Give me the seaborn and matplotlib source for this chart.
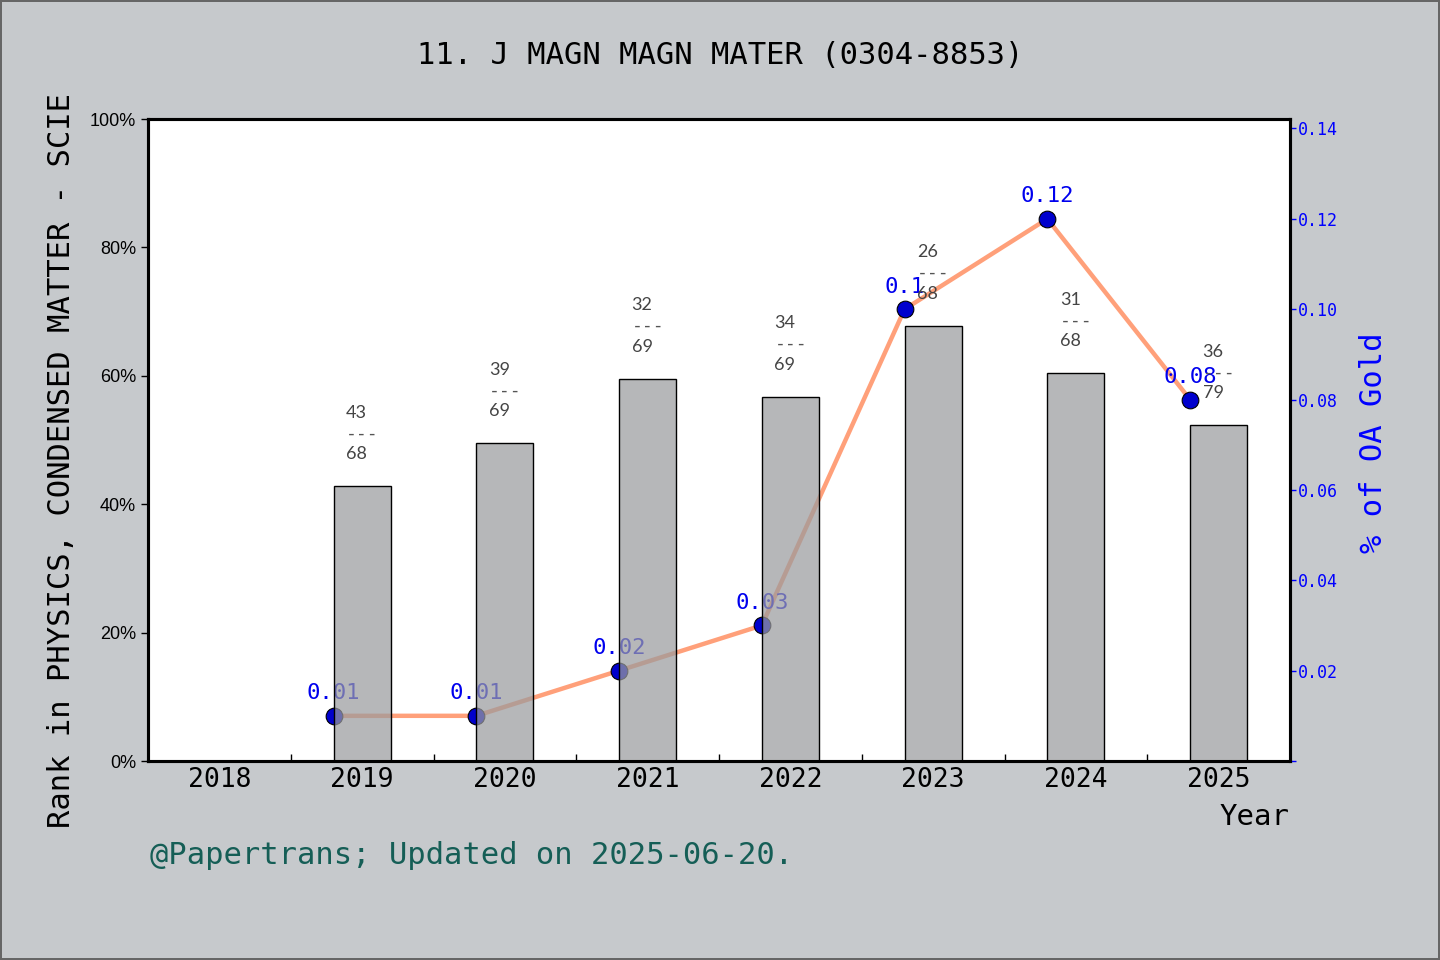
import numpy as np
import pandas as pd
import matplotlib
matplotlib.use("Agg")
import matplotlib.pyplot as plt
import seaborn as sns
from matplotlib.ticker import PercentFormatter, FixedLocator

# ---- data ----
years = ["2018", "2019", "2020", "2021", "2022", "2023", "2024", "2025"]
rank_pct = [np.nan, 42.8, 49.5, 59.5, 56.7, 67.8, 60.4, 52.3]
rank_num = [None, 43, 39, 32, 34, 26, 31, 36]
rank_total = [None, 68, 69, 69, 69, 68, 68, 79]
oa_gold = [np.nan, 0.01, 0.01, 0.02, 0.03, 0.10, 0.12, 0.08]
oa_ticks = [0.0, 0.02, 0.04, 0.06, 0.08, 0.10, 0.12, 0.14]

title = "11. J MAGN MAGN MATER (0304-8853)"
footer = "@Papertrans; Updated on 2025-06-20."

sns.set_theme(style="ticks")
plt.rcParams["font.family"] = ["DejaVu Sans Mono"]
plt.rcParams["text.color"] = "black"
plt.rcParams["xtick.color"] = "black"
plt.rcParams["ytick.color"] = "black"

bg = "#c6c9cc"
df = pd.DataFrame({"year": years, "rank_pct": rank_pct, "oa": oa_gold})
df["pos"] = np.arange(len(years))

fig = plt.figure(figsize=(14.4, 9.6), dpi=100, facecolor=bg,
                 edgecolor="#666666", linewidth=1.5)
ax = fig.add_axes([148 / 1440, 1 - 761 / 960, (1290 - 148) / 1440, (761 - 119) / 960])
ax2 = ax.twinx()

# OA gold line (drawn behind the bars)
ax2.patch.set_visible(True)
ax2.patch.set_facecolor("white")
ax.set_zorder(ax2.get_zorder() + 1)
ax.patch.set_visible(False)

line_df = df.dropna(subset=["oa"]).copy()
line_df["xpos"] = line_df["pos"] - 0.2
sns.lineplot(data=line_df, x="xpos", y="oa", ax=ax2,
             color="#ffa07a", linewidth=3.2, marker="o", markersize=12,
             markerfacecolor="#0000cd", markeredgecolor="black",
             markeredgewidth=0.8, sort=False)
for p, v in zip(line_df["xpos"], line_df["oa"]):
    ax2.annotate(f"{v:g}", (p, v), xytext=(0, 12), textcoords="offset points",
                 ha="center", va="baseline", fontsize=16, color="#0000ee")

# rank bars
sns.barplot(data=df, x="year", y="rank_pct", order=years, ax=ax, width=0.4,
            color="#9a9b9e", saturation=1)
for patch in ax.patches:
    patch.set_alpha(None)
    patch.set_facecolor((0.604, 0.608, 0.620, 0.72))
    patch.set_edgecolor("black")
    patch.set_linewidth(1)

# rank fraction above each bar: number / dashes / total
for p, v, r, t in zip(df["pos"], df["rank_pct"], rank_num, rank_total):
    if r is None:
        continue
    ax.annotate(str(r), (p, v), xytext=(-11.5, 53), textcoords="offset points",
                ha="left", va="center", fontsize=13, color="#444444", family="Lato")
    ax.annotate("---", (p, v), xytext=(-11.5, 38), textcoords="offset points",
                ha="left", va="center", fontsize=13, color="#555555")
    ax.annotate(str(t), (p, v), xytext=(-11.5, 23), textcoords="offset points",
                ha="left", va="center", fontsize=13, color="#444444", family="Lato")

# axes styling
ax.set_xlim(-0.5, 7.5)
ax.set_ylim(0, 100)
ax2.set_ylim(0, 0.1421)
ax.set_xlabel("")
ax.set_ylabel("")
ax2.set_xlabel("")
ax2.set_ylabel("")

ax.yaxis.set_major_locator(FixedLocator([0, 20, 40, 60, 80, 100]))
ax.yaxis.set_major_formatter(PercentFormatter(100, decimals=0))
ax.tick_params(axis="y", direction="out", length=5, width=1, labelsize=13,
               left=True, labelfontfamily="Liberation Sans", colors="black")
ax.set_xticks(range(len(years)))
ax.set_xticklabels(years)
ax.set_xticks(np.arange(0.5, len(years) - 1, 1), minor=True)
ax.tick_params(axis="x", which="major", length=0, labelsize=19, pad=4, colors="black")
ax.tick_params(axis="x", which="minor", direction="in", length=5, width=1)

ax2.yaxis.set_major_locator(FixedLocator(oa_ticks))
ax2.set_yticklabels(["" if t == 0 else f"{t:.2f}" for t in oa_ticks])
ax2.tick_params(axis="y", direction="out", length=4, width=1, labelsize=12,
                colors="#0000ff", pad=2)

for a in (ax, ax2):
    for s in a.spines.values():
        s.set_visible(True)
        s.set_linewidth(2.2)
        s.set_color("black")

# texts
fig.text(0.5, 1 - 56 / 960, title, ha="center", va="center", fontsize=22)
fig.text(62 / 1440, 1 - 461 / 960, "Rank in PHYSICS, CONDENSED MATTER - SCIE",
         rotation=90, ha="center", va="center", fontsize=22)
fig.text(1373 / 1440, 1 - 443 / 960, "% of OA Gold", rotation=90,
         ha="center", va="center", fontsize=22, color="#0000ff")
fig.text(1290 / 1440, 1 - 817 / 960, "Year", ha="right", va="center", fontsize=21)
fig.text(150 / 1440, 1 - 855 / 960, footer, ha="left", va="center",
         fontsize=22, color="#155e56")

fig.savefig("out.png", dpi=100, facecolor=bg, edgecolor="#666666")
